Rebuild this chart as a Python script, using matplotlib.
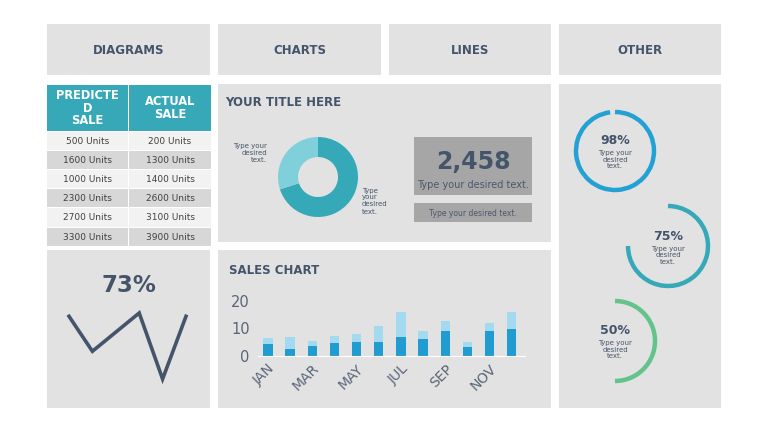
import matplotlib
matplotlib.use("Agg")
import matplotlib.pyplot as plt
from matplotlib.patches import Rectangle, Arc

W, H = 768, 433
INK = "#44546A"
PANEL = "#E2E2E2"

# header tabs
tabs = ["DIAGRAMS", "CHARTS", "LINES", "OTHER"]

# table
table_head = ["PREDICTE\nD\nSALE", "ACTUAL\nSALE"]
predicted = [500, 1600, 1000, 2300, 2700, 3300]
actual = [200, 1300, 1400, 2600, 3100, 3900]

# donut
donut_vals = [70, 30]
donut_colors = ["#36A9B8", "#80D0DB"]

# kpi box
kpi_value = "2,458"

# sales chart
months = ["JAN", "FEB", "MAR", "APR", "MAY", "JUN", "JUL", "AUG", "SEP", "OCT", "NOV", "DEC"]
sales_dark = [4.3, 2.5, 3.6, 4.7, 5.1, 5.1, 6.9, 6.1, 9.0, 3.3, 9.0, 9.8]
sales_light = [2.2, 4.4, 1.8, 2.5, 2.9, 5.7, 8.8, 2.9, 3.7, 1.8, 2.9, 5.9]

# sparkline
spark_pct = "73%"
spark_x = [0, 1, 3, 4, 5]
spark_y = [9.5, 4.2, 10.0, 0.0, 9.5]

# rings
ring_pcts = [98, 75, 50]
ring_colors = ["#23A0D4", "#36A9B8", "#62C48B"]


def fig_box(x0, y0, x1, y1):
    return [x0 / W, 1 - y1 / H, (x1 - x0) / W, (y1 - y0) / H]


fig = plt.figure(figsize=(W / 100, H / 100), dpi=100)
fig.patch.set_facecolor("white")

cv = fig.add_axes([0, 0, 1, 1])
cv.set_xlim(0, W)
cv.set_ylim(H, 0)
cv.axis("off")


def rect(x0, y0, x1, y1, color):
    cv.add_patch(Rectangle((x0, y0), x1 - x0, y1 - y0, facecolor=color, edgecolor="none", zorder=1))


# tabs
tab_x = [(47, 210), (218, 381), (389, 551), (559, 721)]
for (x0, x1), name in zip(tab_x, tabs):
    rect(x0, 24, x1, 75, PANEL)
    cv.text((x0 + x1) / 2, 50, name, ha="center", va="center", fontsize=8.5,
            fontweight="bold", color=INK, zorder=3)

# panels
rect(218, 84, 551, 242, PANEL)
rect(218, 250, 551, 408, PANEL)
rect(47, 250, 210, 408, PANEL)
rect(559, 84, 721, 408, PANEL)

# table
col_x = [(47, 128), (129, 211)]
for (x0, x1), head in zip(col_x, table_head):
    rect(x0, 85, x1, 131, "#37A8B8")
    cv.text((x0 + x1) / 2, 108, head, ha="center", va="center", fontsize=8.3,
            fontweight="bold", color="white", linespacing=0.95, zorder=3)
row_h = 19.1
for i, (p, a) in enumerate(zip(predicted, actual)):
    y0 = 132 + i * row_h
    color = "#F2F2F2" if i % 2 == 0 else "#D7D7D7"
    for (x0, x1), v in zip(col_x, [p, a]):
        rect(x0, y0, x1, y0 + row_h - 1, color)
        cv.text((x0 + x1) / 2, y0 + row_h / 2, f"{v} Units", ha="center", va="center",
                fontsize=6.5, color="#404040", zorder=3)

# middle top panel
cv.text(225, 103, "YOUR TITLE HERE", ha="left", va="center", fontsize=8.5,
        fontweight="bold", color=INK, zorder=3)
cv.text(267, 153, "Type your\ndesired\ntext.", ha="right", va="center", fontsize=5,
        color=INK, zorder=3)
cv.text(362, 201, "Type\nyour\ndesired\ntext.", ha="left", va="center", fontsize=5,
        color=INK, zorder=3)

dax = fig.add_axes(fig_box(278, 137, 358, 217))
dax.pie(donut_vals, colors=donut_colors, startangle=90, counterclock=False,
        wedgeprops=dict(width=0.5, edgecolor="none"))
dax.set_xlim(-1, 1)
dax.set_ylim(-1, 1)
dax.axis("off")

rect(414, 137, 532, 195, "#A6A6A6")
cv.text(473, 162, kpi_value, ha="center", va="center", fontsize=17,
        fontweight="bold", color=INK, zorder=3)
cv.text(473, 185, "Type your desired text.", ha="center", va="center", fontsize=7,
        color="#4A586C", zorder=3)
rect(414, 203, 532, 222, "#A6A6A6")
cv.text(473, 213, "Type your desired text.", ha="center", va="center", fontsize=5.5,
        color="#4A586C", zorder=3)

# sales chart
cv.text(229, 270, "SALES CHART", ha="left", va="center", fontsize=8.5,
        fontweight="bold", color=INK, zorder=3)
bax = fig.add_axes(fig_box(258, 295, 525, 356))
bax.set_facecolor("none")
xs = range(len(months))
bax.bar(xs, sales_dark, width=0.42, color="#219CD0")
bax.bar(xs, sales_light, bottom=sales_dark, width=0.42, color="#A4DAF0")
bax.set_xlim(-0.45, 11.6)
bax.set_ylim(0, 22)
bax.set_yticks([0, 10, 20])
bax.set_xticks(list(xs)[::2])
bax.set_xticklabels(months[::2], rotation=45, ha="right", rotation_mode="anchor")
bax.tick_params(length=0, colors="#5A6579", labelsize=10.5, pad=6)
bax.tick_params(axis="x", labelsize=10, pad=4)
for s in ["top", "right", "left"]:
    bax.spines[s].set_visible(False)
bax.spines["bottom"].set_color("white")
bax.spines["bottom"].set_linewidth(0.8)

# sparkline panel
cv.text(129, 286, spark_pct, ha="center", va="center", fontsize=16.5,
        fontweight="bold", color=INK, zorder=3)
sax = fig.add_axes(fig_box(69, 313, 186, 379))
sax.plot(spark_x, spark_y, color=INK, lw=2.6, solid_joinstyle="miter", clip_on=False)
sax.set_xlim(0, 5)
sax.set_ylim(0, 10)
sax.axis("off")

# rings
ring_pos = [(615, 151, 41), (668, 246, 42), (615, 341, 42)]
for (cx, cy, r), pct, col in zip(ring_pos, ring_pcts, ring_colors):
    cv.add_patch(Arc((cx, cy), 2 * r - 4, 2 * r - 4, theta1=-90, theta2=-90 + 3.6 * pct,
                     color=col, lw=3.2, zorder=2))
    cv.text(cx, cy - 10, f"{pct}%", ha="center", va="center", fontsize=9,
            fontweight="bold", color=INK, zorder=3)
    cv.text(cx, cy + 9, "Type your\ndesired\ntext.", ha="center", va="center",
            fontsize=5, color=INK, linespacing=1.1, zorder=3)

fig.savefig("out.png", dpi=100, facecolor="white")
